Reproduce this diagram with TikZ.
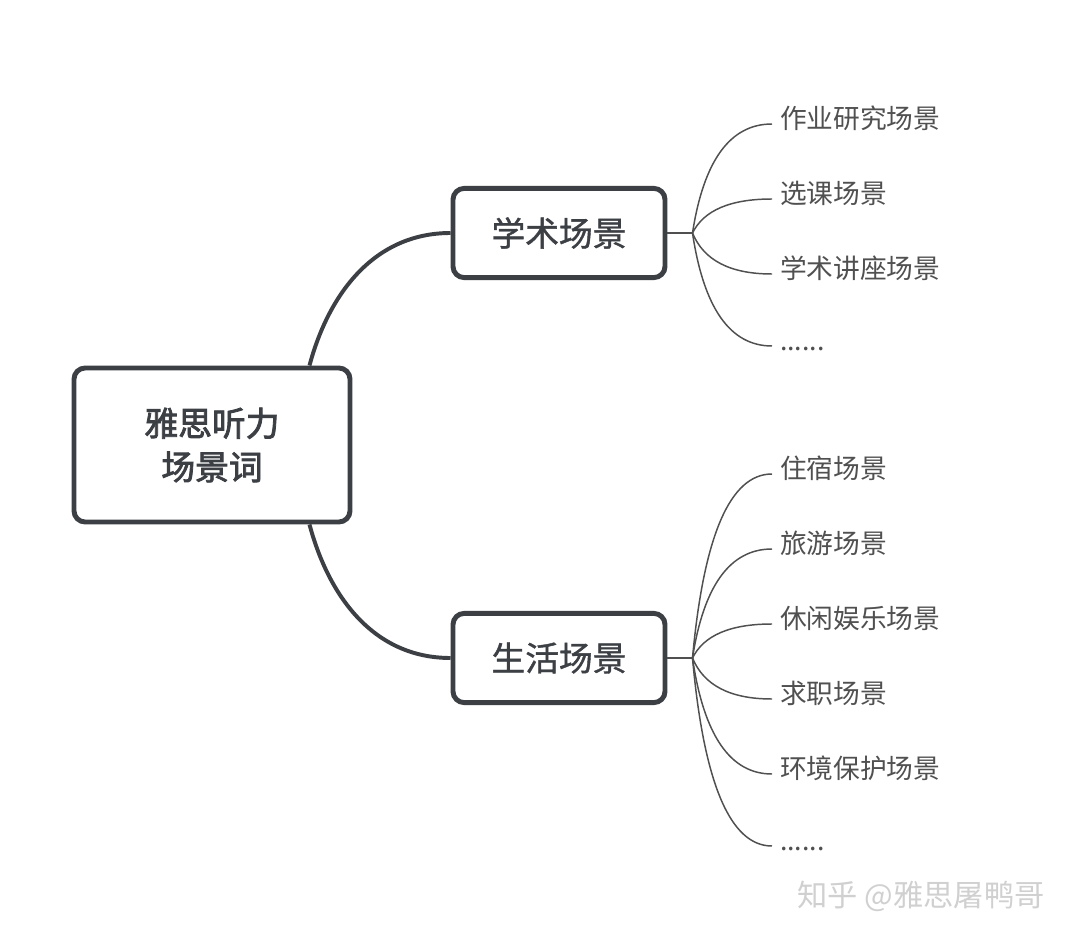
\documentclass[tikz,border=0pt]{standalone}
\usepackage{fontspec}
\usepackage{xcolor}
\usetikzlibrary{calc}
\newfontfamily\cjk{Noto Sans CJK SC}
\newfontfamily\cjkmed[FakeBold=2.4]{Noto Sans CJK SC}
\newfontfamily\cjksemi[FakeBold=1.2]{Noto Sans CJK SC}
\definecolor{boxgray}{HTML}{3C3F44}
\definecolor{leafgray}{HTML}{505050}
\definecolor{markgray}{HTML}{D0D0D0}

\begin{document}
\begin{tikzpicture}[x=0.025cm, y=-0.025cm, font=\cjk,
      topic/.style={draw=boxgray, line width=3.5pt, rounded corners=8pt, fill=white, align=center, text=boxgray},
      leaf/.style={anchor=west, inner xsep=5.5pt, text=leafgray, font=\cjk\fontsize{19}{23}\selectfont, text height=0.8em, text depth=0.2em},
      branch/.style={draw=boxgray, line width=2.8pt},
      twig/.style={draw=leafgray, line width=1.05pt,
        to path={let \p1=(\tikztostart), \p2=(\tikztotarget) in
          .. controls (\x1+8pt, {\y1+0.667*(\y2-\y1)}) and ({\x2+0.667*(\x1+12pt-\x2)}, \y2) .. (\tikztotarget)}}]

    \useasboundingbox[fill=white] (0,0) rectangle (1080,939);

    \node[topic, minimum width=6.9cm, minimum height=3.85cm, font=\cjkmed\fontsize{24}{31}\selectfont] (root) at (212,445) {雅思听力\\场景词};
    \node[topic, minimum width=5.3cm, minimum height=2.23cm, font=\cjksemi\fontsize{24}{28}\selectfont] (acad) at (559,233) {学术场景};
    \node[topic, minimum width=5.3cm, minimum height=2.23cm, font=\cjksemi\fontsize{24}{28}\selectfont] (life) at (559,658) {生活场景};

    \draw[branch] ([xshift=-1.075cm]root.north east) to[out=75, in=180] (acad.west);
    \draw[branch] ([xshift=-1.075cm]root.south east) to[out=-75, in=180] (life.west);

    % academic scenes
    \coordinate (acadhub) at ([xshift=0.625cm]acad.east);
    \node[leaf] (a1) at (772,124) {作业研究场景};
    \node[leaf] (a2) at (772,199) {选课场景};
    \node[leaf] (a3) at (772,274) {学术讲座场景};
    \node[leaf] (a4) at (772,346) {......};
    \draw[twig] (acad.east) -- (acadhub);
    \draw[twig] (acadhub) to (a1.west);
    \draw[twig] (acadhub) to (a2.west);
    \draw[twig] (acadhub) to (a3.west);
    \draw[twig] (acadhub) to (a4.west);

    % daily life scenes
    \coordinate (lifehub) at ([xshift=0.625cm]life.east);
    \node[leaf] (l1) at (772,474) {住宿场景};
    \node[leaf] (l2) at (772,549) {旅游场景};
    \node[leaf] (l3) at (772,624) {休闲娱乐场景};
    \node[leaf] (l4) at (772,699) {求职场景};
    \node[leaf] (l5) at (772,774) {环境保护场景};
    \node[leaf] (l6) at (772,846) {......};
    \draw[twig] (life.east) -- (lifehub);
    \draw[twig] (lifehub) to (l1.west);
    \draw[twig] (lifehub) to (l2.west);
    \draw[twig] (lifehub) to (l3.west);
    \draw[twig] (lifehub) to (l4.west);
    \draw[twig] (lifehub) to (l5.west);
    \draw[twig] (lifehub) to (l6.west);

    \node[text=markgray, font=\cjk\fontsize{21.5}{26}\selectfont] (mark) at (921,896) {知乎 @雅思屠鸭哥};
  \end{tikzpicture}
\end{document}
